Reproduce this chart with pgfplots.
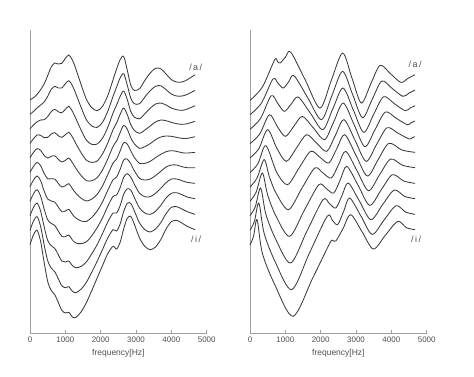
\documentclass[border=0pt]{standalone}
\usepackage{fontspec}
\setmainfont{Liberation Sans}
\usepackage{pgfplots}
\usepackage{pgfplotstable}
\pgfplotsset{compat=1.18}
\definecolor{crv}{HTML}{3A3A3A}
\definecolor{axg}{HTML}{A0A0A0}
\definecolor{txg}{HTML}{505050}
\pgfplotstableread{
f c1 c2 c3 c4 c5 c6 c7 c8 c9 c10 c11
0 -240 -284 -327 -371 -414 -458 -501 -545 -588 -632 -675
100 -234 -275 -316 -357 -398 -440 -481 -522 -563 -604 -645
200 -224 -265 -306 -346 -387 -428 -469 -510 -550 -591 -632
300 -210 -256 -301 -347 -392 -438 -483 -529 -574 -620 -665
400 -193 -247 -300 -354 -407 -461 -514 -568 -621 -675 -728
500 -168 -230 -291 -353 -415 -477 -538 -600 -662 -723 -785
600 -142 -209 -276 -343 -410 -477 -544 -611 -678 -745 -812
700 -130 -200 -269 -339 -408 -478 -547 -617 -686 -756 -825
800 -133 -205 -276 -348 -419 -491 -562 -634 -705 -777 -848
900 -131 -205 -279 -353 -427 -502 -576 -650 -724 -798 -872
1000 -116 -192 -269 -345 -422 -498 -574 -651 -727 -804 -880
1100 -106 -183 -260 -338 -415 -492 -569 -646 -724 -801 -878
1200 -121 -198 -275 -352 -429 -507 -584 -661 -738 -815 -892
1300 -148 -223 -297 -372 -446 -521 -595 -670 -744 -819 -893
1450 -196 -264 -332 -400 -468 -536 -604 -672 -740 -808 -876
1600 -240 -301 -362 -422 -483 -544 -605 -666 -726 -787 -848
1750 -264 -319 -374 -428 -483 -538 -593 -648 -702 -757 -812
1900 -273 -323 -373 -424 -474 -524 -574 -624 -675 -725 -775
2050 -260 -308 -356 -403 -451 -499 -547 -595 -642 -690 -738
2200 -228 -275 -323 -370 -418 -465 -512 -560 -607 -655 -702
2350 -180 -230 -280 -330 -380 -430 -480 -530 -580 -630 -680
2450 -148 -202 -256 -310 -364 -418 -472 -526 -580 -634 -688
2550 -120 -175 -230 -284 -339 -394 -449 -504 -558 -613 -668
2650 -110 -162 -214 -265 -317 -369 -421 -473 -524 -576 -628
2750 -150 -195 -239 -284 -328 -373 -418 -462 -507 -551 -596
2850 -196 -235 -275 -314 -354 -393 -432 -472 -511 -551 -590
2950 -212 -252 -292 -332 -372 -413 -453 -493 -533 -573 -613
3100 -207 -252 -297 -341 -386 -431 -476 -521 -565 -610 -655
3250 -182 -232 -282 -331 -381 -431 -481 -531 -580 -630 -680
3400 -160 -213 -266 -319 -372 -425 -478 -531 -584 -637 -690
3550 -146 -200 -253 -307 -360 -414 -468 -521 -575 -628 -682
3700 -147 -198 -250 -301 -352 -404 -455 -506 -557 -609 -660
3850 -163 -210 -256 -303 -349 -396 -442 -489 -535 -582 -628
4000 -180 -223 -265 -308 -350 -393 -436 -478 -521 -563 -606
4150 -187 -229 -270 -312 -353 -395 -436 -478 -519 -561 -602
4300 -187 -229 -272 -314 -356 -399 -441 -483 -525 -568 -610
4450 -180 -224 -268 -312 -356 -400 -444 -488 -532 -576 -620
4670 -165 -212 -258 -305 -351 -398 -444 -491 -537 -584 -630
}\lefttab
\pgfplotsset{panel/.style={
  width=176.7bp, height=303.3bp, scale only axis,
  xmin=0, xmax=5000, ymin=-940, ymax=-30,
  axis x line=bottom, axis y line=left,
  axis line style={-, axg, line width=0.8pt},
  ytick=\empty, xtick={0,1000,2000,3000,4000,5000},
  tick align=inside, major tick length=3bp,
  tick style={axg, line width=0.6pt},
  xticklabel style={font=\fontsize{8}{9}\selectfont, text=txg},
  /pgf/number format/1000 sep={},
  /pgf/number format/assume math mode=true,
  xlabel={frequency[Hz]},
  xlabel style={font=\fontsize{8.5}{10}\selectfont, text=txg},
  clip=false,
  cycle list={{crv, solid}},
  every axis plot post/.append style={crv, solid, line width=0.85pt, smooth, no marks}
}}
\begin{document}
\begin{tikzpicture}
\path[use as bounding box] (0,0) rectangle (474bp,377bp);
\begin{axis}[panel, at={(30bp,44bp)}, anchor=south west]
\foreach \c in {c1,c2,c3,c4,c5,c6,c7,c8,c9,c10,c11}{
  \addplot table[x=f, y=\c] {\lefttab};
}
\node[font=\fontsize{9}{10}\selectfont, text=txg] at (axis cs:4690,-143) {/\,a\,/};
\node[font=\fontsize{9}{10}\selectfont, text=txg] at (axis cs:4700,-660) {/\,i\,/};
\end{axis}
\begin{axis}[panel, at={(250bp,44bp)}, anchor=south west]
\addplot coordinates {(0,-242) (350,-202) (700,-120) (775,-125) (850,-130) (1000,-113) (1150,-97) (1565,-181) (1980,-265) (2300,-182) (2620,-100) (2885,-175) (3150,-250) (3415,-193) (3680,-137) (3975,-162) (4270,-188) (4470,-176) (4670,-165)};
\addplot coordinates {(0,-285) (325,-250) (650,-178) (797,-191) (943,-205) (1095,-186) (1247,-168) (1633,-234) (2020,-300) (2320,-227) (2620,-155) (2902,-224) (3184,-294) (3457,-239) (3730,-184) (4030,-207) (4330,-230) (4500,-220) (4670,-211)};
\addplot coordinates {(0,-329) (300,-296) (600,-228) (785,-251) (970,-275) (1167,-253) (1364,-232) (1712,-281) (2060,-330) (2345,-267) (2630,-205) (2924,-271) (3218,-338) (3499,-284) (3780,-231) (4085,-252) (4390,-273) (4530,-265) (4670,-258)};
\addplot coordinates {(0,-372) (275,-343) (550,-285) (775,-321) (1000,-350) (1240,-320) (1481,-290) (1795,-325) (2110,-360) (2375,-305) (2640,-250) (2946,-315) (3252,-381) (3541,-329) (3830,-277) (4140,-296) (4450,-315) (4560,-309) (4670,-304)};
\addplot coordinates {(0,-415) (250,-387) (500,-330) (765,-387) (1030,-425) (1314,-385) (1598,-345) (1884,-370) (2170,-395) (2415,-347) (2660,-300) (2973,-362) (3286,-425) (3583,-374) (3880,-324) (4195,-341) (4510,-358) (4590,-354) (4670,-351)};
\addplot coordinates {(0,-459) (225,-432) (450,-378) (755,-458) (1060,-495) (1388,-445) (1715,-395) (1972,-412) (2230,-430) (2455,-387) (2680,-345) (3000,-407) (3320,-469) (3625,-420) (3930,-371) (4300,-391) (4670,-398)};
\addplot coordinates {(0,-502) (200,-475) (400,-420) (550,-472) (745,-522) (1090,-570) (1461,-507) (1832,-445) (2066,-460) (2300,-475) (2505,-435) (2710,-395) (3032,-454) (3354,-513) (3667,-465) (3980,-418) (4320,-437) (4670,-444)};
\addplot coordinates {(0,-545) (175,-517) (350,-460) (500,-526) (735,-589) (1120,-650) (1535,-572) (1949,-495) (2160,-507) (2370,-520) (2555,-480) (2740,-440) (3064,-498) (3388,-557) (3709,-511) (4030,-465) (4350,-484) (4670,-491)};
\addplot coordinates {(0,-588) (150,-561) (300,-505) (450,-584) (725,-658) (1150,-730) (1608,-635) (2066,-540) (2248,-552) (2430,-565) (2605,-527) (2780,-490) (3101,-545) (3422,-600) (3751,-555) (4080,-511) (4375,-530) (4670,-537)};
\addplot coordinates {(0,-632) (125,-605) (250,-550) (400,-641) (715,-727) (1180,-810) (1682,-700) (2183,-590) (2332,-602) (2480,-615) (2650,-575) (2820,-535) (3138,-589) (3456,-644) (3793,-601) (4130,-558) (4400,-577) (4670,-584)};
\addplot coordinates {(0,-675) (100,-650) (200,-600) (350,-701) (710,-797) (1220,-890) (1775,-775) (2250,-672) (2330,-662) (2430,-664) (2635,-626) (2850,-585) (3170,-636) (3490,-688) (3835,-646) (4180,-605) (4425,-624) (4670,-630)};
\node[font=\fontsize{9}{10}\selectfont, text=txg] at (axis cs:4670,-135) {/\,a\,/};
\node[font=\fontsize{9}{10}\selectfont, text=txg] at (axis cs:4700,-660) {/\,i\,/};
\end{axis}
\end{tikzpicture}
\end{document}
